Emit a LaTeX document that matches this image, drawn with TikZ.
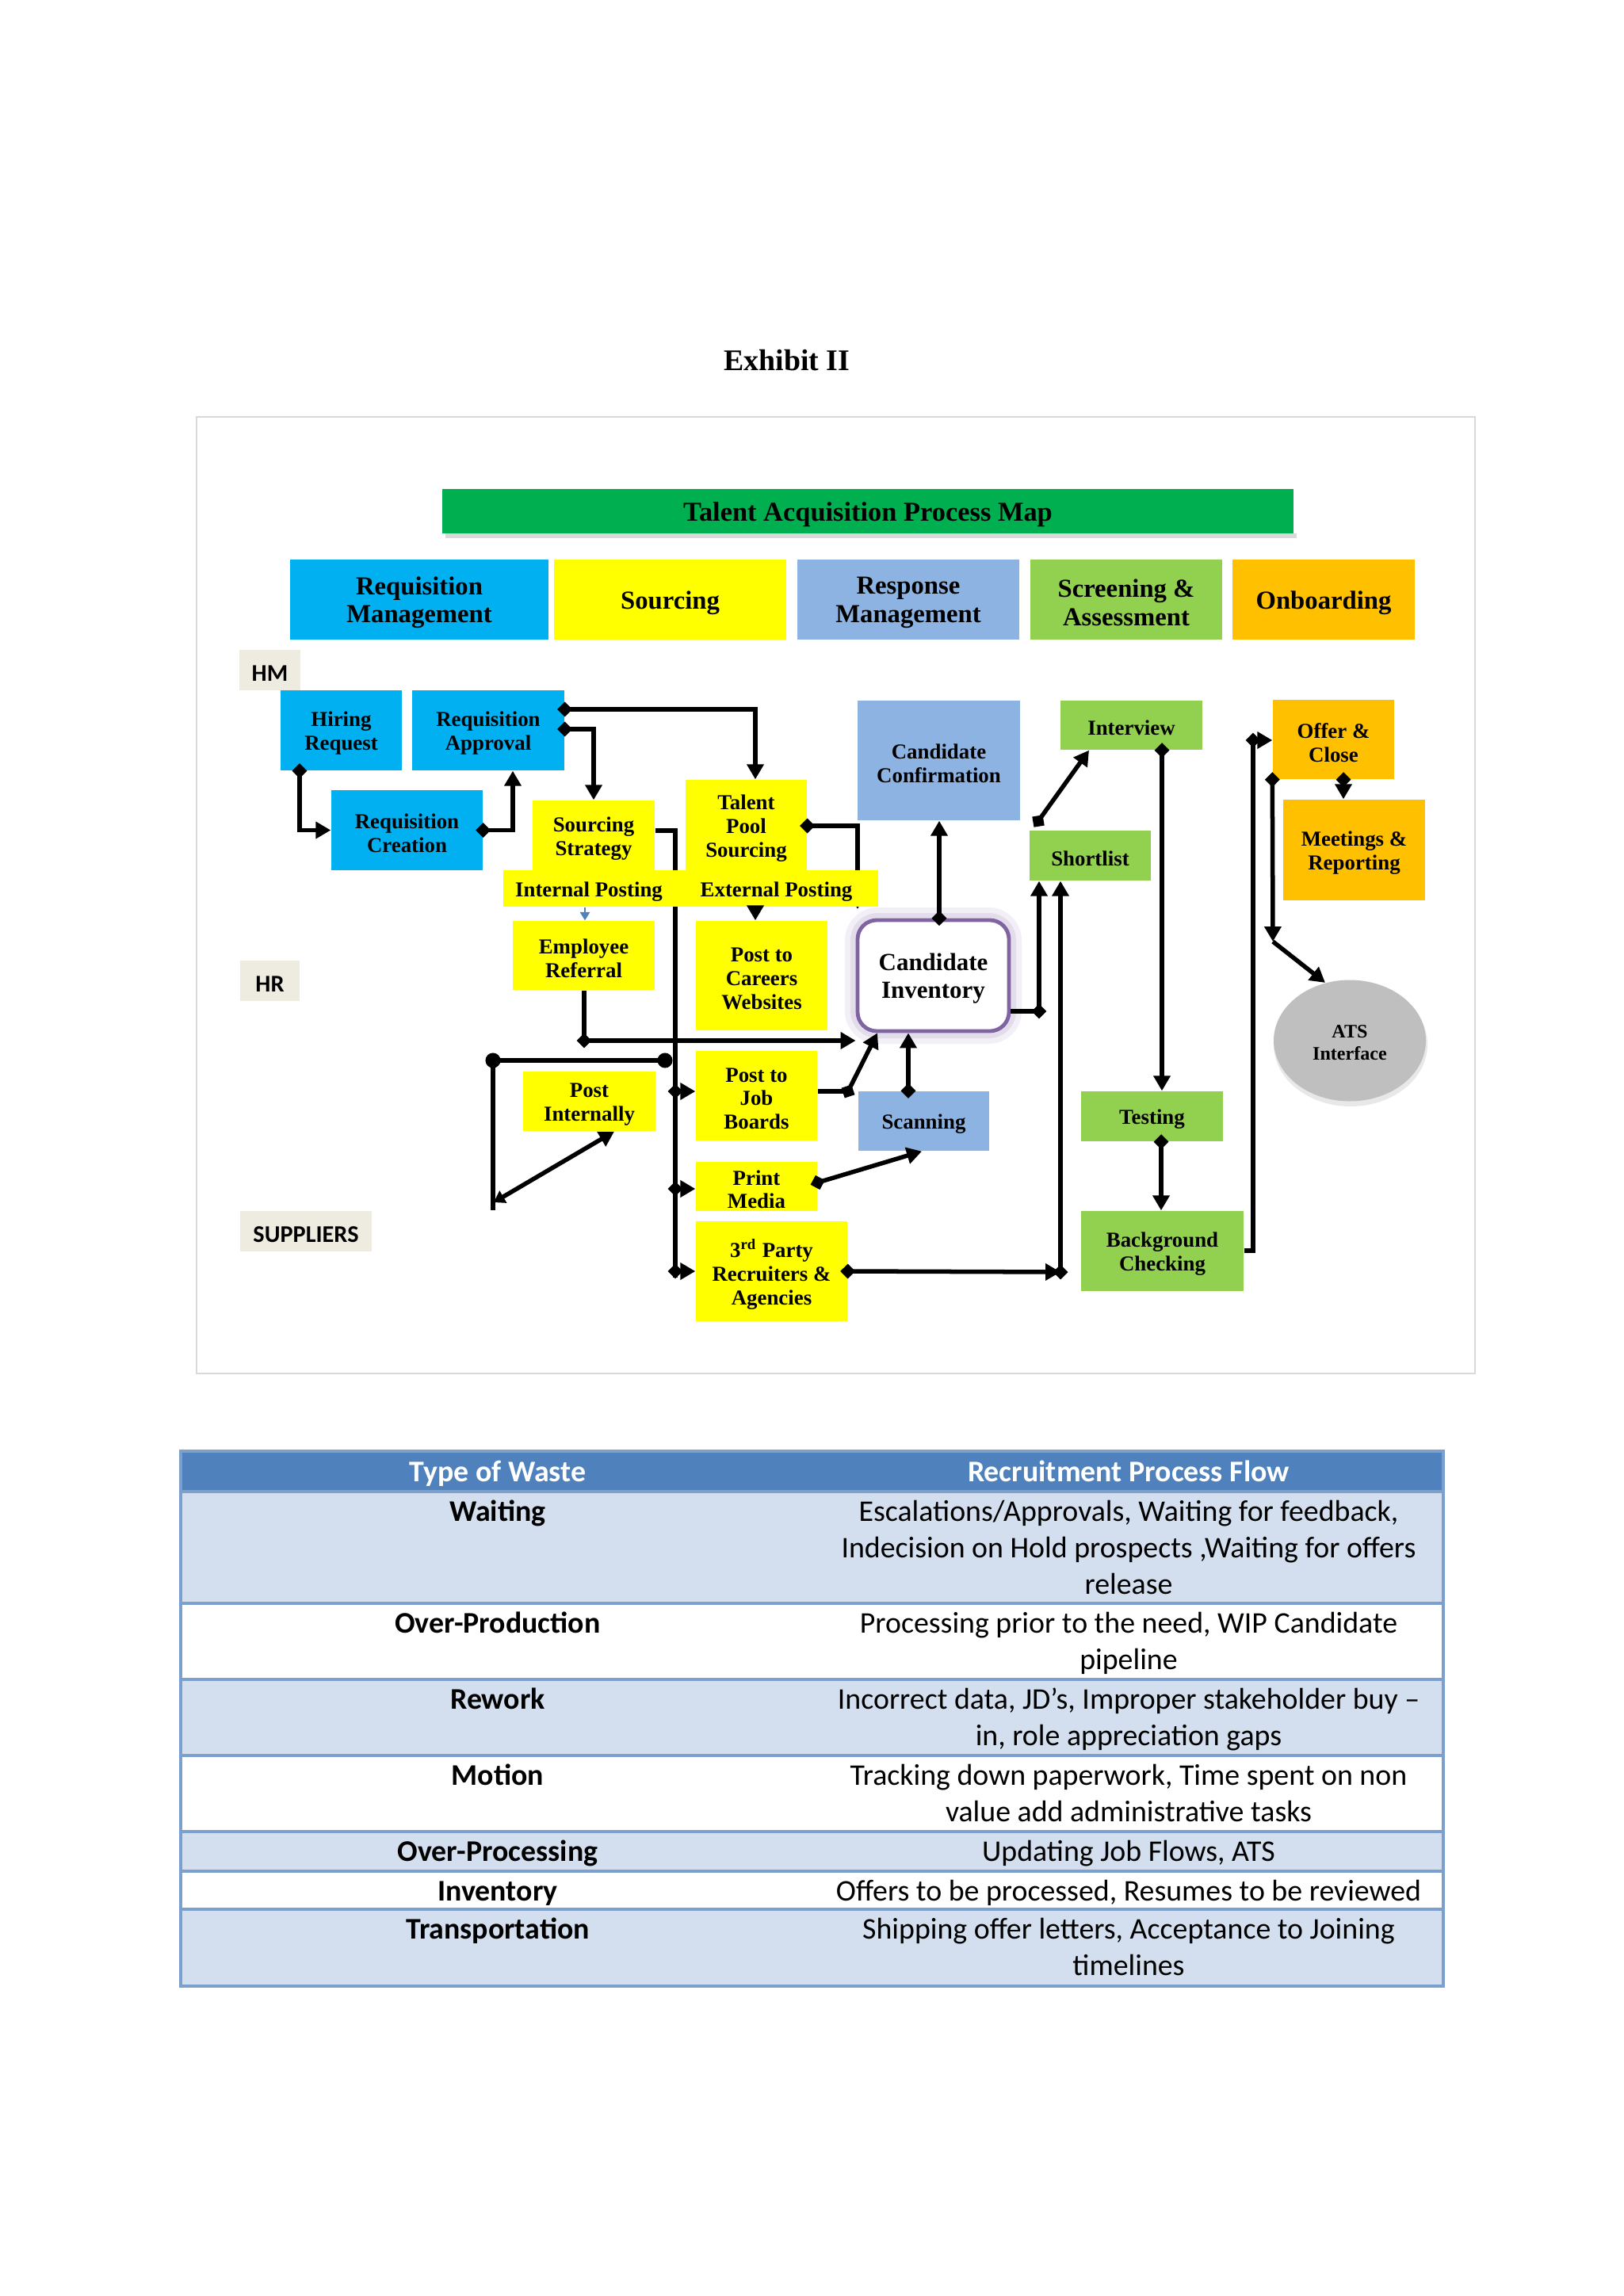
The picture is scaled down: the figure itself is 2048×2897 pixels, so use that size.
\documentclass[tikz,border=0pt]{standalone}
\usepackage{fontspec}
\setmainfont{Liberation Serif}
\newfontfamily\calfont{Carlito}
\usetikzlibrary{arrows.meta,shapes.geometric}
\definecolor{tgreen}{HTML}{00B050}
\definecolor{rblue}{HTML}{00B0F0}
\definecolor{syel}{HTML}{FFFF00}
\definecolor{rmblue}{HTML}{8DB3E2}
\definecolor{sgreen}{HTML}{92D050}
\definecolor{oorange}{HTML}{FFC000}
\definecolor{lblbg}{HTML}{EEECE1}
\definecolor{atsgray}{HTML}{BFBFBF}
\definecolor{cipurple}{HTML}{8064A2}
\definecolor{thead}{HTML}{4F81BD}
\definecolor{trow}{HTML}{D3DFEE}
\definecolor{tline}{HTML}{7BA0CD}
\newcommand\pbox[7]{\node[#6, minimum width={(#4-#2)*0.29053pt}, minimum height={(#5-#3)*0.29053pt}] (#1) at ({(#2+#4)/2},{(#3+#5)/2}) {};
  \node[#6, fill=none, draw=none, yshift=-1.1pt] (#1-t) at (#1.center) {#7};}
\newcommand\tcel[1]{\begin{tabular}[t]{@{}c@{}}#1\end{tabular}}
\begin{document}
\begin{tikzpicture}[x=0.29053pt,y=-0.29053pt,
  box/.style={rectangle, inner sep=0pt, align=center, font=\fontsize{7.8}{8.7}\selectfont\bfseries},
  rb/.style={box, fill=rblue}, yb/.style={box, fill=syel}, lb/.style={box, fill=rmblue},
  gb/.style={box, fill=sgreen}, ob/.style={box, fill=oorange},
  cat/.style={rectangle, inner sep=0pt, align=center, font=\fontsize{9.5}{10.4}\selectfont\bfseries},
  lbl/.style={rectangle, inner sep=0pt, fill=lblbg, font=\calfont\bfseries\fontsize{8.8}{10}\selectfont},
  cib/.style={rectangle, rounded corners=7pt, draw=cipurple, line width=1.4pt, fill=white, inner sep=0pt, align=center, font=\fontsize{9}{10}\selectfont\bfseries},
  conn/.style={line width=1.6pt, line join=miter, black},
  arr/.style={conn, -{Triangle[length=5.5pt,width=6pt]}},
  dconn/.style={conn, {Diamond[length=5.5pt,width=5.5pt]}-{Triangle[length=5.5pt,width=6pt]}, shorten <=-2.75pt},
  tcell/.style={anchor=base, inner sep=0pt, font=\calfont\fontsize{11}{13.4}\selectfont},
  tline/.style={draw=tline, line width=0.9pt}]
\useasboundingbox (0,0) rectangle (2048,2897);
\fill[white] (0,0) rectangle (2048,2897);

\node[anchor=base, inner sep=0pt, font=\fontsize{11}{13}\selectfont\bfseries] (exh) at (993,468) {Exhibit II};

% frame
\draw[black!15, line width=0.8pt] (248,526) rectangle (1861,1733);

% title and categories
\fill[black!15] (562,673) rectangle (1636,679);
\pbox{title}{558}{617}{1632}{673}{cat, fill=tgreen, font=\fontsize{10}{11}\selectfont\bfseries}{Talent Acquisition Process Map}
\pbox{c1}{366}{706}{692}{807}{cat, fill=rblue}{Requisition\\Management}
\pbox{c2}{699}{706}{992}{807}{cat, fill=syel}{Sourcing}
\pbox{c3}{1006}{706}{1286}{807}{cat, fill=rmblue}{Response\\Management}
\pbox{c4}{1300}{706}{1542}{807}{cat, fill=sgreen}{Screening \&\\Assessment}
\pbox{c5}{1555}{706}{1785}{807}{cat, fill=oorange}{Onboarding}

% lane labels
\pbox{hm}{302}{820}{379}{871}{lbl}{HM}
\pbox{hrl}{303}{1212}{378}{1263}{lbl}{HR}
\pbox{sup}{303}{1528}{469}{1579}{lbl}{SUPPLIERS}

% boxes
\pbox{hreq}{354}{871}{507}{972}{rb}{Hiring\\Request}
\pbox{rapp}{520}{871}{712}{972}{rb}{Requisition\\Approval}
\pbox{rcre}{418}{997}{609}{1098}{rb}{Requisition\\Creation}
\pbox{sstr}{672}{1010}{826}{1098}{yb}{Sourcing\\Strategy}
\pbox{tps}{865}{984}{1018}{1098}{yb}{Talent\\Pool\\Sourcing}
\pbox{eref}{647}{1162}{826}{1249}{yb}{Employee\\Referral}
\pbox{pcw}{878}{1162}{1044}{1300}{yb}{Post to\\Careers\\Websites}
\pbox{pint}{660}{1352}{827}{1427}{yb}{Post\\Internally}
\pbox{pjb}{878}{1326}{1031}{1439}{yb}{Post to\\Job\\Boards}
\pbox{pm}{878}{1466}{1031}{1528}{yb}{Print\\Media}
\pbox{tpr}{878}{1541}{1069}{1667}{yb}{3\textsuperscript{rd} Party\\Recruiters \&\\Agencies}
\pbox{cc}{1082}{884}{1287}{1035}{lb}{Candidate\\Confirmation}
\pbox{scan}{1083}{1377}{1248}{1452}{lb}{Scanning}
\pbox{intv}{1338}{884}{1517}{946}{gb}{Interview}
\pbox{shl}{1299}{1048}{1452}{1111}{gb}{Shortlist}
\pbox{test}{1364}{1377}{1543}{1440}{gb}{Testing}
\pbox{bgc}{1364}{1528}{1569}{1629}{gb}{Background\\Checking}
\pbox{offer}{1606}{883}{1759}{983}{ob}{Offer \&\\Close}
\pbox{meet}{1619}{1009}{1798}{1136}{ob}{Meetings \&\\Reporting}
\fill[black!9] (1704,1318) ellipse ({97*0.29053pt} and {78*0.29053pt});
\node[ellipse, fill=atsgray, inner sep=0pt, minimum width={192*0.29053pt}, minimum height={153*0.29053pt}] (ats) at (1703,1313) {};
\node[inner sep=0pt, align=center, font=\fontsize{7}{8}\selectfont\bfseries, yshift=-0.8pt] (ats-t) at (ats.center) {ATS\\Interface};

% candidate inventory with glow
\fill[cipurple!10, rounded corners=12pt] (1066,1145) rectangle (1289,1317);
\fill[cipurple!22, rounded corners=10pt] (1073,1152) rectangle (1282,1310);
\pbox{ci}{1082}{1161}{1273}{1301}{cib}{Candidate\\Inventory}

% connectors under the posting bars
\coordinate (busTop) at (852,1048);
\coordinate (busBot) at (852,1612);
\draw[conn] (sstr.east |- busTop) -- (busTop) -- (busBot);
\draw[dconn] (tps.east |- 0,1042) -| (1082,1147);

% posting bars
\pbox{ipost}{635}{1098}{851}{1144}{yb}{Internal Posting}
\pbox{epost}{851}{1098}{1108}{1144}{yb}{External Posting}

% requisition connectors
\draw[dconn] (rapp.east |- 0,895) -| (tps.north -| 953,0);
\draw[dconn] (rapp.east |- 0,920) -| (sstr.north);
\draw[dconn] (hreq.south -| 378,0) |- (rcre.west);
\draw[dconn] (rcre.east) -| (rapp.south -| 647,0);

% sourcing connectors
\draw[arr] (epost.south -| 953,0) -- (pcw.north -| 953,0);
\draw[draw=thead, line width=0.6pt, -{Triangle[length=3pt,width=3.5pt]}] (ipost.south -| 738,0) -- (eref.north -| 738,0);
\coordinate (erc) at (737,1313);
\draw[conn] (eref.south -| erc) -- (erc);
\draw[dconn] (erc) -- (ci.west |- erc);
\draw[dconn] (busTop |- 0,1377) -- (pjb.west |- 0,1377);
\draw[dconn] (busTop |- 0,1500) -- (pm.west |- 0,1500);
\draw[dconn] (busTop |- tpr.west) -- (tpr.west);

% post internally loop
\coordinate (pl) at (622,1338);
\coordinate (pr) at (839,1338);
\coordinate (pb) at (622,1527);
\coordinate (pd) at (623,1517);
\draw[conn, {Circle[length=5.5pt]}-{Circle[length=5.5pt]}, shorten <=-2.75pt, shorten >=-2.75pt] (pl) -- (pr);
\draw[conn] (pl) -- (pb);
\draw[conn, {Triangle[length=4pt,width=5pt]}-{Triangle[length=5.5pt,width=6pt]}] (pd) -- (pint.south -| 775,0);

% response connectors
\coordinate (pjc) at (1070,1377);
\draw[conn] (pjb.east |- pjc) -- (pjc);
\draw[dconn] (pjc) -- (ci.south -| 1107,0);
\draw[dconn] (pm.east |- 0,1492) -- (scan.south -| 1163,0);
\draw[dconn] (scan.north -| 1146,0) -- (ci.south -| 1146,0);
\draw[dconn] (ci.north -| 1185,0) -- (cc.south -| 1185,0);
\coordinate (vb) at (1338,1605);
\draw[dconn] (tpr.east) -- (vb);
\draw[dconn] (vb) -- (shl.south -| vb);
\coordinate (cis) at (1311,1276);
\draw[conn] (ci.east |- cis) -- (cis);
\draw[dconn] (cis) -- (shl.south -| cis);

% screening connectors
\coordinate (shlout) at (1310,1036);
\draw[dconn] (shlout) -- (intv.south -| 1374,0);
\draw[dconn] (intv.south -| 1466,0) -- (test.north -| 1466,0);
\draw[dconn] (test.south -| 1465,0) -- (bgc.north -| 1465,0);

% onboarding connectors
\coordinate (ofc) at (1581,934);
\draw[conn] (bgc.east |- 0,1578) -| (ofc);
\draw[dconn] (ofc) -- (offer.west |- ofc);
\draw[dconn] (offer.south -| 1695,0) -- (meet.north -| 1695,0);
\coordinate (atc) at (1606,1188);
\draw[dconn] (offer.south west) -- (atc);
\draw[arr] (atc) -- (ats.113);

% table
\fill[thead] (228,1831) rectangle (1821,1882);
\fill[trow] (228,1882) rectangle (1821,2023);
\fill[white] (228,2023) rectangle (1821,2119);
\fill[trow] (228,2119) rectangle (1821,2215);
\fill[white] (228,2215) rectangle (1821,2311);
\fill[trow] (228,2311) rectangle (1821,2361);
\fill[white] (228,2361) rectangle (1821,2409);
\fill[trow] (228,2409) rectangle (1821,2506);
\foreach \yy in {1882,2023,2119,2215,2311,2361,2409} \draw[tline] (228,\yy) -- (1821,\yy);
\draw[tline] (228,1831) rectangle (1821,2506);

\node[tcell, text=white, font=\calfont\bfseries\fontsize{11}{13.4}\selectfont] (th1) at (628,1869) {Type of Waste};
\node[tcell, text=white, font=\calfont\bfseries\fontsize{11}{13.4}\selectfont] (th2) at (1424,1869) {Recruitment Process Flow};

\node[tcell, font=\calfont\bfseries\fontsize{11}{13.4}\selectfont] (r1a) at (628,1919) {Waiting};
\node[tcell] (r1b) at (1424,1919) {\tcel{Escalations/Approvals, Waiting for feedback,\\Indecision on Hold prospects ,Waiting for offers\\release}};
\node[tcell, font=\calfont\bfseries\fontsize{11}{13.4}\selectfont] (r2a) at (628,2060) {Over-Production};
\node[tcell] (r2b) at (1424,2060) {\tcel{Processing prior to the need, WIP Candidate\\pipeline}};
\node[tcell, font=\calfont\bfseries\fontsize{11}{13.4}\selectfont] (r3a) at (628,2156) {Rework};
\node[tcell] (r3b) at (1424,2156) {\tcel{Incorrect data, JD’s, Improper stakeholder buy –\\in, role appreciation gaps}};
\node[tcell, font=\calfont\bfseries\fontsize{11}{13.4}\selectfont] (r4a) at (628,2252) {Motion};
\node[tcell] (r4b) at (1424,2252) {\tcel{Tracking down paperwork, Time spent on non\\value add administrative tasks}};
\node[tcell, font=\calfont\bfseries\fontsize{11}{13.4}\selectfont] (r5a) at (628,2348) {Over-Processing};
\node[tcell] (r5b) at (1424,2348) {Updating Job Flows, ATS};
\node[tcell, font=\calfont\bfseries\fontsize{11}{13.4}\selectfont] (r6a) at (628,2398) {Inventory};
\node[tcell] (r6b) at (1424,2398) {Offers to be processed, Resumes to be reviewed};
\node[tcell, font=\calfont\bfseries\fontsize{11}{13.4}\selectfont] (r7a) at (628,2446) {Transportation};
\node[tcell] (r7b) at (1424,2446) {\tcel{Shipping offer letters, Acceptance to Joining\\timelines}};
\end{tikzpicture}
\end{document}
